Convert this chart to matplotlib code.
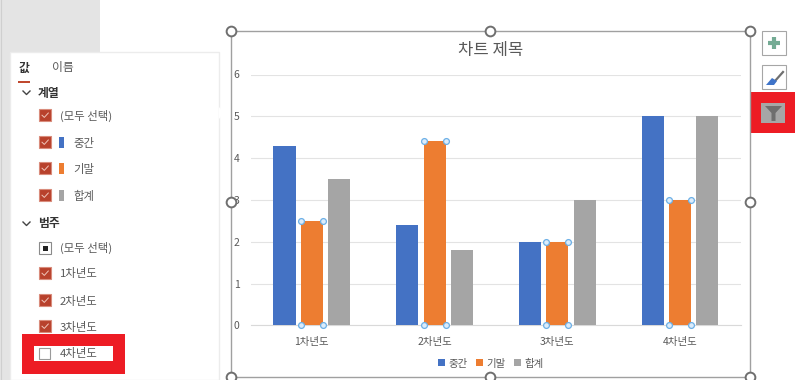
import numpy as np
import matplotlib
matplotlib.use("Agg")
import matplotlib.pyplot as plt
from matplotlib.patches import Rectangle, Polygon

plt.rcParams['font.family'] = ['Noto Sans CJK KR', 'DejaVu Sans']

# 차트 데이터
categories = ['1차년도', '2차년도', '3차년도', '4차년도']
series_names = ['중간', '기말', '합계']
mid_values = [4.3, 2.4, 2.0, 5.0]
final_values = [2.5, 4.4, 2.0, 3.0]
total_values = [3.5, 1.8, 3.0, 5.0]
y_ticks = [0, 1, 2, 3, 4, 5, 6]
colors = ['#4472c4', '#ed7d31', '#a5a5a5']

# 왼쪽 필터 패널 항목
series_rows = [('(모두 선택)', None, 116), ('중간', 0, 143), ('기말', 1, 169), ('합계', 2, 196)]
category_rows = [('1차년도', 274), ('2차년도', 301), ('3차년도', 327), ('4차년도', 354)]

W, H = 800, 380
TEXT = '#595959'
RED = '#ed1c24'

fig = plt.figure(figsize=(W / 100, H / 100), dpi=100, facecolor='white')

# 화면 좌표용 배경 축
ui = fig.add_axes([0, 0, 1, 1], zorder=0)
ui.set_xlim(0, W)
ui.set_ylim(H, 0)
ui.axis('off')


def box(x, y, w, h, fc, ec='none', lw=0, z=1):
    ui.add_patch(Rectangle((x, y), w, h, facecolor=fc, edgecolor=ec, linewidth=lw, zorder=z))


def check(x, y):
    box(x, y, 12, 12, '#b8412c', '#d98c7c', 0.8, z=3)
    ui.plot([x + 3, x + 5.3, x + 9.3], [y + 6.2, y + 8.4, y + 4], color='#f0c4b8', lw=0.7, zorder=4)


def chevron(x, y):
    ui.plot([x, x + 3.5, x + 7], [y, y + 3.5, y], color='#444444', lw=1.0, zorder=4)


# 시트 배경과 패널
box(0, 0, 100, H, '#e4e4e4')
ui.plot([0.8, 0.8], [0, H], color='#cfcfcf', lw=0.8, zorder=1)
box(10, 52, 209, H - 52, 'white', '#ececec', 1.0, z=2)
ui.add_patch(Polygon([[219, 107], [224, 113], [219, 119]], facecolor='white', edgecolor='none', zorder=3))

ui.text(24, 68, '값', fontsize=8.5, color='#333333', fontweight='bold', ha='center', va='center', zorder=4)
ui.text(63, 68, '이름', fontsize=8.5, color=TEXT, ha='center', va='center', zorder=4)
box(18, 80.5, 12, 2.5, '#c0492f', z=4)

chevron(23, 91)
ui.text(38, 93, '계열', fontsize=8.5, color='#333333', fontweight='bold', va='center', zorder=4)
for label, idx, y in series_rows:
    check(39, y - 7)
    if idx is None:
        ui.text(60, y, label, fontsize=8.2, color=TEXT, va='center', zorder=4)
    else:
        box(59, y - 6, 5, 11, colors[idx], z=4)
        ui.text(73, y, label, fontsize=8.2, color=TEXT, va='center', zorder=4)

chevron(23, 222)
ui.text(38, 224, '범주', fontsize=8.5, color='#333333', fontweight='bold', va='center', zorder=4)
box(39, 242, 12, 12, 'white', '#8a8a8a', 0.8, z=3)
box(42.5, 245.5, 5, 5, '#222222', z=4)
ui.text(60, 248, '(모두 선택)', fontsize=8.2, color=TEXT, va='center', zorder=4)

# 빨간 강조 표시
box(22, 334, 103, 40, RED, z=5)
box(34, 346, 79, 15, 'white', z=6)
for label, y in category_rows:
    if label == categories[-1]:
        box(39, y - 6, 11, 11, 'white', '#9a9a9a', 0.8, z=7)
        ui.text(60, y, label, fontsize=8.2, color=TEXT, va='center', zorder=7)
    else:
        check(39, y - 7)
        ui.text(60, y, label, fontsize=8.2, color=TEXT, va='center', zorder=4)

# 오른쪽 차트 버튼
box(750, 92, 45, 41, RED, z=1)
box(762, 31, 24, 24, 'white', '#a6a6a6', 0.8)
box(762, 65, 24, 24, 'white', '#a6a6a6', 0.8)
box(761, 103, 24, 20, '#a6a6a6', z=2)
ui.plot([768, 780], [43, 43], color='#74ab94', lw=3, solid_capstyle='butt', zorder=3)
ui.plot([774, 774], [37, 49], color='#74ab94', lw=3, solid_capstyle='butt', zorder=3)
ui.plot([775, 783], [81, 72], color='#6f6f6f', lw=1.6, zorder=3)
ui.add_patch(Polygon([[766, 85], [772, 78], [777, 81], [774, 85]], facecolor='#3f74c9', edgecolor='none', zorder=3))
ui.add_patch(Polygon([[765, 106], [782, 106], [775.5, 113], [775.5, 121], [771.5, 121], [771.5, 113]],
                     facecolor='#6e6e6e', edgecolor='none', zorder=3))

# 차트 영역 테두리
box(231, 31, 519, 346, 'white', '#a0a0a0', 1.0, z=1)

# 막대 차트
left, right, top, bottom = 250.5, 741.3, 74.5, 325.3
ax = fig.add_axes([left / W, 1 - bottom / H, (right - left) / W, (bottom - top) / H], zorder=1)
ax.patch.set_alpha(0)
x = np.arange(len(categories))
bar_w = 0.18
gap = 0.223
ax.bar(x - gap, mid_values, bar_w, color=colors[0], label=series_names[0], zorder=3)
ax.bar(x, final_values, bar_w, color=colors[1], label=series_names[1], zorder=3)
ax.bar(x + gap, total_values, bar_w, color=colors[2], label=series_names[2], zorder=3)

# 선택된 기말 계열의 조절점
for xi, v in zip(x, final_values):
    for dx in (-bar_w / 2, bar_w / 2):
        ax.plot([xi + dx, xi + dx], [0, v], ls='none', marker='o', ms=4.2, mfc='#dcecfb', mec='#6db0e6',
                mew=0.9, zorder=5, clip_on=False)

ax.set_xlim(-0.5, 3.5)
ax.set_ylim(0, 6)
ax.set_yticks(y_ticks)
ax.set_xticks(x)
ax.set_xticklabels(categories)
ax.tick_params(length=0, labelsize=7.5, labelcolor=TEXT)
ax.tick_params(axis='x', pad=8.5)
ax.tick_params(axis='y', pad=8)
ax.grid(axis='y', color='#e3e3e3', lw=0.8, zorder=0)
ax.set_axisbelow(True)
for name in ['top', 'right', 'left']:
    ax.spines[name].set_visible(False)
ax.spines['bottom'].set_color('#d9d9d9')
ax.spines['bottom'].set_linewidth(0.8)

ui.text(490.5, 51, '차트 제목', fontsize=12, color=TEXT, ha='center', va='center', zorder=4)
fig.legend(*ax.get_legend_handles_labels(), loc='center', bbox_to_anchor=(491 / W, 1 - 363.5 / H), ncol=3,
           frameon=False, fontsize=7.5, labelcolor=TEXT, handlelength=0.65, handleheight=0.65,
           handletextpad=0.35, columnspacing=0.8, borderpad=0)

# 차트 선택 핸들
over = fig.add_axes([0, 0, 1, 1], zorder=3)
over.set_xlim(0, W)
over.set_ylim(H, 0)
over.axis('off')
handle_x = [231, 490, 750, 231, 750, 231, 490, 750]
handle_y = [31, 31, 31, 202, 202, 377, 377, 377]
over.plot(handle_x, handle_y, ls='none', marker='o', ms=7, mfc='white', mec='#6f6f6f', mew=1.4, clip_on=False)

fig.savefig('out.png', dpi=100)
